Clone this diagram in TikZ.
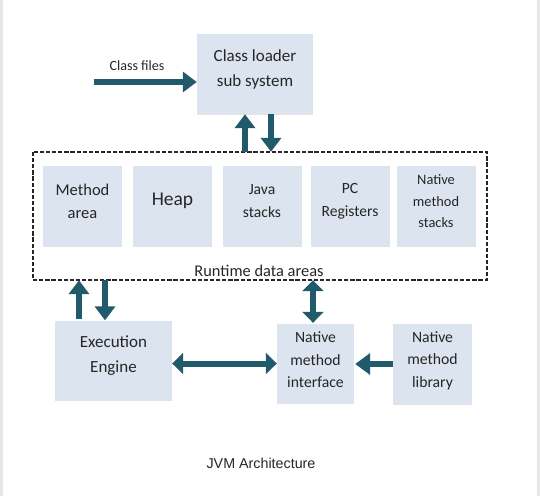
\documentclass[tikz,border=0pt]{standalone}
\usepackage{fontspec}
\setmainfont{Carlito}
\newfontfamily\capfont{Liberation Sans}
\usetikzlibrary{arrows.meta,shadows}
\definecolor{boxc}{HTML}{DCE4EF}
\definecolor{arrc}{HTML}{205A6B}
\definecolor{txtc}{HTML}{262626}
\definecolor{framec}{HTML}{E6E6E6}
\tikzset{
  box/.style={fill=boxc, draw=none, minimum width=79pt, minimum height=80pt, inner sep=0pt,
    drop shadow={shadow xshift=0.4pt, shadow yshift=-1.2pt, opacity=0.22}},
  txt/.style={text=txtc, align=center, inner sep=0pt},
  blk/.style={draw=arrc, line width=6pt, -{Triangle[width=20pt,length=14pt]}},
  dblk/.style={draw=arrc, line width=6pt, {Triangle[width=21pt,length=11pt]}-{Triangle[width=21pt,length=11pt]}},
}
\begin{document}
\begin{tikzpicture}[x=1pt,y=-1pt]
\useasboundingbox (0,0) rectangle (540,496);
\fill[framec] (0,0) rectangle (3,496);
\fill[framec] (537,0) rectangle (540,496);

% class loader
\node[box, minimum width=116pt] (cl) at (255,74) {};
\node[txt, font=\fontsize{17}{25}\selectfont] (clt) at ([yshift=5pt]cl.center) {Class loader\\sub system};

% runtime data areas
\draw[dash pattern=on 4.2pt off 1.9pt, line width=1.4pt, draw=black!85] (33,152) rectangle (487,280);
\node[inner sep=0pt, minimum width=454pt, minimum height=128pt] (rda) at (260,216) {};
\node[txt, font=\fontsize{16.4}{20}\selectfont] (rdat) at (259,270.5) {Runtime data areas};

\node[box] (b1) at (82.5,206) {};
\node[box] (b2) at (172.5,206) {};
\node[box] (b3) at (262,206) {};
\node[box] (b4) at (350,206) {};
\node[box] (b5) at (436,206) {};
\node[txt, font=\fontsize{16.5}{23}\selectfont] (b1t) at ([yshift=5pt]b1.center) {Method\\area};
\node[txt, font=\fontsize{19.5}{23}\selectfont] (b2t) at ([yshift=5pt]b2.center) {Heap};
\node[txt, font=\fontsize{15.6}{23}\selectfont] (b3t) at ([yshift=5pt]b3.center) {Java\\stacks};
\node[txt, font=\fontsize{15.6}{23}\selectfont] (b4t) at ([yshift=5pt]b4.center) {PC\\Registers};
\node[txt, font=\fontsize{14.4}{21.5}\selectfont] (b5t) at ([yshift=4.5pt]b5.center) {Native\\method\\stacks};

% bottom boxes
\node[box, minimum width=117pt, minimum height=79pt] (ex) at (113.5,360.5) {};
\node[txt, font=\fontsize{17}{25}\selectfont] (ext) at ([yshift=5pt]ex.center) {Execution\\Engine};
\node[box, minimum width=77pt, minimum height=79pt] (nmi) at (315.5,363.5) {};
\node[txt, font=\fontsize{15.7}{22.5}\selectfont] (nmit) at ([yshift=3.5pt]nmi.center) {Native\\method\\interface};
\node[box, minimum width=79pt, minimum height=80pt] (nml) at (432.5,364) {};
\node[txt, font=\fontsize{15.7}{22.5}\selectfont] (nmlt) at ([yshift=3.5pt]nml.center) {Native\\method\\library};

% caption
\node[txt, font=\capfont\fontsize{14.3}{18}\selectfont, text=black!85] (cap) at (261,463) {JVM Architecture};

% connectors
\coordinate (cf) at (94,82);
\node[txt, font=\fontsize{14.1}{17}\selectfont] (cft) at (137,66) {Class files};
\draw[blk] (cf) -- (cl.west |- cf);

\coordinate (u1) at (245,0);
\coordinate (d1) at (271,0);
\draw[blk] (rda.north -| u1) -- (cl.south -| u1);
\draw[blk] (cl.south -| d1) -- (rda.north -| d1);

\coordinate (u2) at (79,0);
\coordinate (d2) at (105,0);
\draw[blk] ([yshift=1.5pt]ex.north -| u2) -- (rda.south -| u2);
\draw[blk] (rda.south -| d2) -- ([yshift=0.5pt]ex.north -| d2);

\coordinate (v3) at (313,0);
\draw[dblk] (rda.south -| v3) -- ([yshift=1pt]nmi.north -| v3);

\draw[dblk] (ex.east |- nmi.west) -- (nmi.west);
\draw[blk, -{Triangle[width=21pt,length=15pt]}] (nml.west) -- ([xshift=1pt]nmi.east |- nml.west);
\end{tikzpicture}
\end{document}
